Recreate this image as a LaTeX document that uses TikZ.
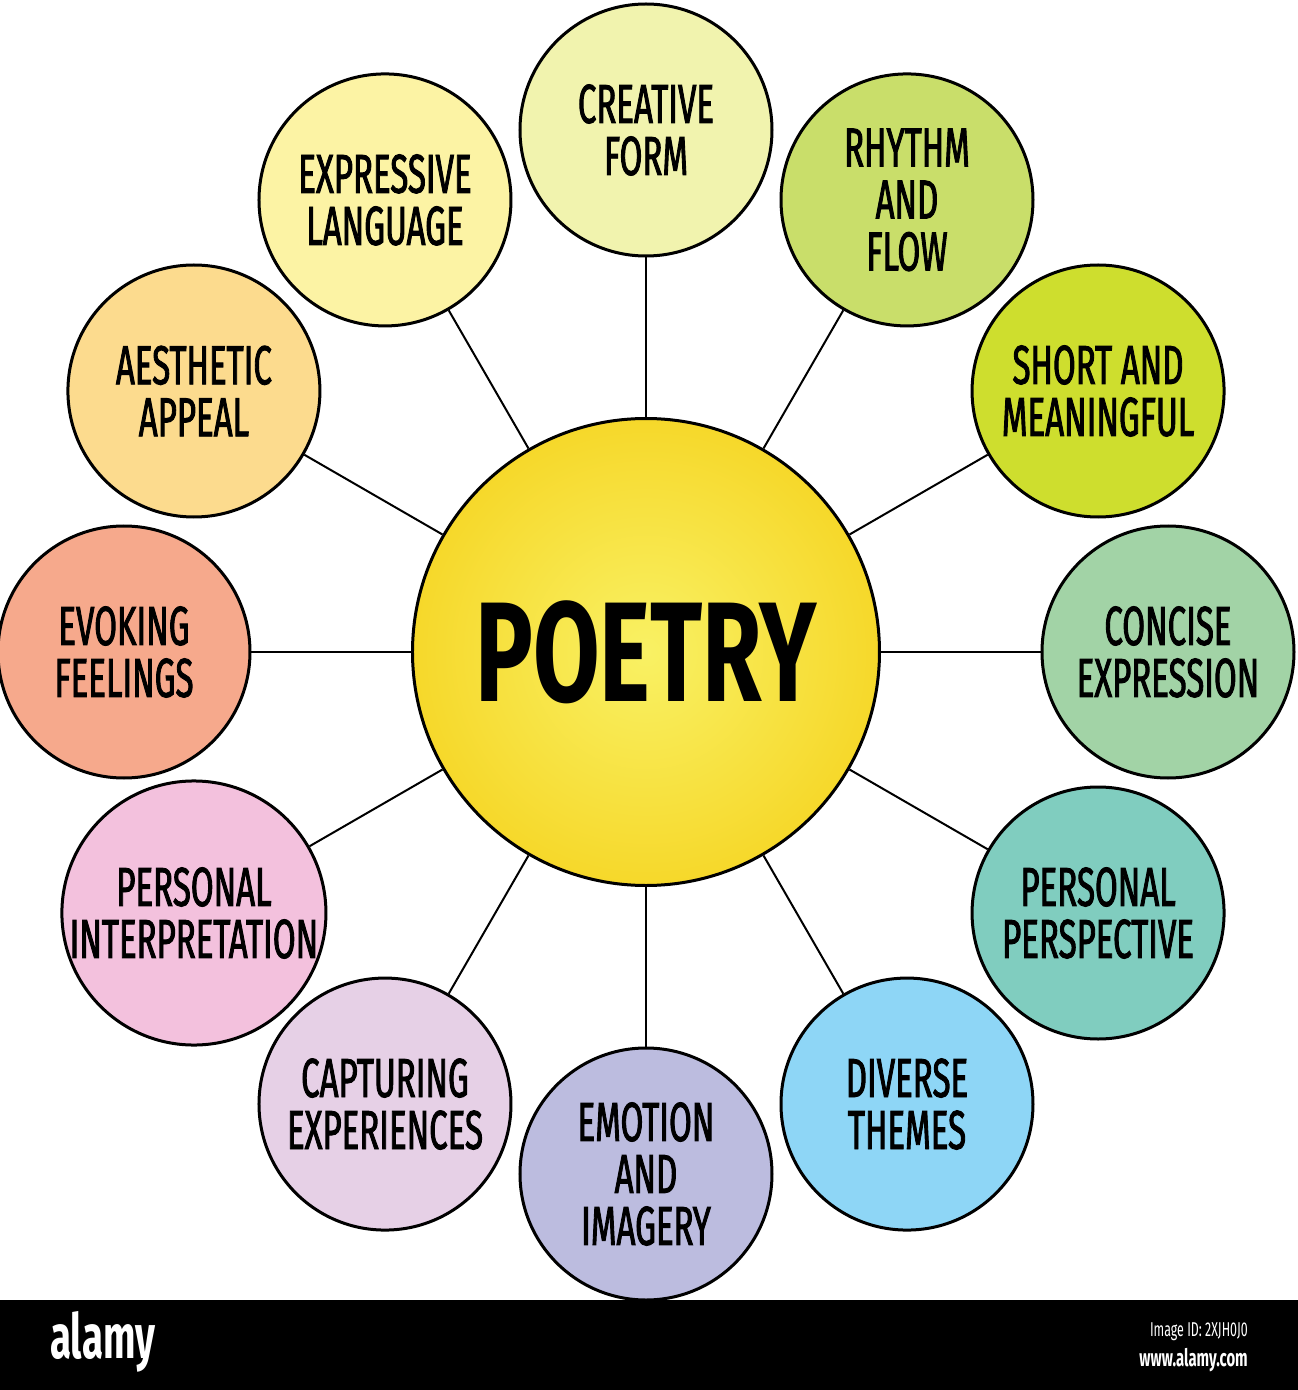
\documentclass[tikz,border=0pt]{standalone}
\usepackage{fontspec}
\newfontfamily\handfont[FakeStretch=0.6, FakeBold=1.6]{Fira Sans}
\newfontfamily\titlefont[FakeStretch=0.68]{Fira Sans}
\newfontfamily\bannerfont[FakeStretch=0.62]{Fira Sans}
\usetikzlibrary{positioning}

\definecolor{hubinner}{HTML}{F9F164}
\definecolor{hubouter}{HTML}{F6D82A}
\definecolor{formfill}{HTML}{F1F3AE}
\definecolor{rhythmfill}{HTML}{C9DE6A}
\definecolor{shortfill}{HTML}{CEDE2E}
\definecolor{concisefill}{HTML}{A2D3A6}
\definecolor{perspfill}{HTML}{80CDBF}
\definecolor{themesfill}{HTML}{8ED6F6}
\definecolor{imageryfill}{HTML}{BCBCDF}
\definecolor{capturefill}{HTML}{E6D0E6}
\definecolor{interpfill}{HTML}{F3C1DD}
\definecolor{feelfill}{HTML}{F6A98C}
\definecolor{appealfill}{HTML}{FCDB8E}
\definecolor{langfill}{HTML}{FCF3A4}

\begin{document}
\begin{tikzpicture}[
            x=1pt, y=1pt,
            idea/.style={circle, draw=black, line width=3pt, minimum size=252pt, inner sep=0pt,
                align=center, font=\handfont\fontsize{55}{52}\selectfont},
            hub/.style={circle, draw=black, line width=3pt, minimum size=467pt, inner sep=0pt,
                inner color=hubinner, outer color=hubouter, font=\titlefont\bfseries\fontsize{142}{142}\selectfont},
            spoke/.style={draw, line width=2pt},
            banner/.style={text=white, inner sep=0pt}
        ]

            \useasboundingbox (-646,-738) rectangle (652,652);

            % Central topic
            \node[hub] (poetry) {POETRY};

            % Surrounding ideas, clockwise from the top
            \node[idea, fill=formfill] (form) at (90:522) {CREATIVE\\FORM};
            \node[idea, fill=rhythmfill] (rhythm) at (60:522) {RHYTHM\\AND\\FLOW};
            \node[idea, fill=shortfill] (short) at (30:522) {SHORT AND\\MEANINGFUL};
            \node[idea, fill=concisefill] (concise) at (0:522) {CONCISE\\EXPRESSION};
            \node[idea, fill=perspfill] (persp) at (-30:522) {PERSONAL\\PERSPECTIVE};
            \node[idea, fill=themesfill] (themes) at (-60:522) {DIVERSE\\THEMES};
            \node[idea, fill=imageryfill] (imagery) at (-90:522) {EMOTION\\AND\\IMAGERY};
            \node[idea, fill=capturefill] (capture) at (-120:522) {CAPTURING\\EXPERIENCES};
            \node[idea, fill=interpfill] (interp) at (-150:522) {PERSONAL\\INTERPRETATION};
            \node[idea, fill=feelfill] (feel) at (180:522) {EVOKING\\FEELINGS};
            \node[idea, fill=appealfill] (appeal) at (150:522) {AESTHETIC\\APPEAL};
            \node[idea, fill=langfill] (lang) at (120:522) {EXPRESSIVE\\LANGUAGE};

            % Spokes from the centre
            \draw[spoke] (poetry) -- (form);
            \draw[spoke] (poetry) -- (rhythm);
            \draw[spoke] (poetry) -- (short);
            \draw[spoke] (poetry) -- (concise);
            \draw[spoke] (poetry) -- (persp);
            \draw[spoke] (poetry) -- (themes);
            \draw[spoke] (poetry) -- (imagery);
            \draw[spoke] (poetry) -- (capture);
            \draw[spoke] (poetry) -- (interp);
            \draw[spoke] (poetry) -- (feel);
            \draw[spoke] (poetry) -- (appeal);
            \draw[spoke] (poetry) -- (lang);

            % Stock banner
            \fill[black] (-646,-738) rectangle (652,-648);
            \node[banner, anchor=west, font=\bannerfont\bfseries\fontsize{62}{62}\selectfont] (logo) at (-596,-690) {alamy};
            \node[banner, anchor=east, font=\bannerfont\fontsize{20}{20}\selectfont] (imageid) at (602,-680) {Image ID: 2XJH0J0};
            \node[banner, anchor=east, font=\bannerfont\bfseries\fontsize{24}{24}\selectfont] (site) at (602,-708) {www.alamy.com};

        \end{tikzpicture}
\end{document}
